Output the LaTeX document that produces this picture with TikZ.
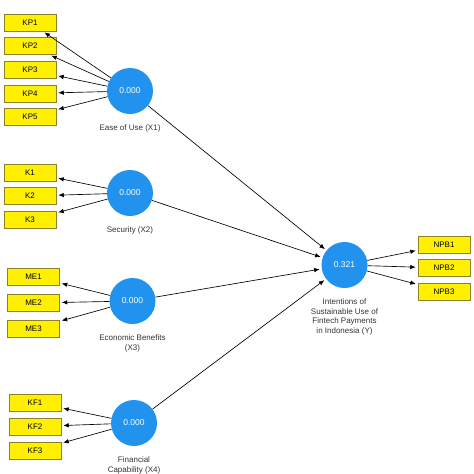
\documentclass[tikz,border=0pt]{standalone}
\usepackage{fontspec}
\setmainfont{Liberation Sans}
\usetikzlibrary{positioning,arrows.meta}
\definecolor{lvblue}{RGB}{33,146,238}
\definecolor{indyellow}{RGB}{255,240,0}
\definecolor{indline}{RGB}{140,130,40}
\begin{document}
\begin{tikzpicture}[x=1pt, y=-1pt,
		ind/.style = {draw=indline, fill=indyellow, line width=0.5pt, minimum width=52pt, minimum height=17pt, inner sep=0pt, font=\fontsize{8}{9}\selectfont},
		lv/.style = {circle, fill=lvblue, minimum size=46pt, inner sep=0pt, text=white, font=\fontsize{8.5}{9}\selectfont},
		lvname/.style = {align=center, inner sep=0.5pt, text=black!80, font=\fontsize{8}{9.5}\selectfont},
		load/.style = {-{Latex[length=5.5pt, width=4.5pt]}, line width=0.65pt, shorten >=2pt},
		path/.style = {-{Latex[length=5.5pt, width=4.5pt]}, line width=0.65pt, shorten >=2pt}]
		\useasboundingbox (0,0) rectangle (474,474);
		
		% ease of use
		\node[lv] (x1) at (130, 91) {0.000};
		\node[lvname, below=10pt of x1] (x1name) {Ease of Use (X1)};
		\node[ind] (kp1) at (30, 22.5) {KP1};
		\node[ind] (kp2) at (30, 46) {KP2};
		\node[ind] (kp3) at (30, 70) {KP3};
		\node[ind] (kp4) at (30, 93.5) {KP4};
		\node[ind] (kp5) at (30, 116.5) {KP5};
		\foreach \i in {1,...,5} \draw[load] (x1) -- (kp\i);
		
		% security
		\node[lv] (x2) at (130, 193) {0.000};
		\node[lvname, below=10pt of x2] (x2name) {Security (X2)};
		\node[ind] (k1) at (30, 172.5) {K1};
		\node[ind] (k2) at (30, 196) {K2};
		\node[ind] (k3) at (30, 220) {K3};
		\foreach \i in {1,2,3} \draw[load] (x2) -- (k\i);
		
		% economic benefits
		\node[lv] (x3) at (132.5, 301) {0.000};
		\node[lvname, below=10pt of x3] (x3name) {Economic Benefits\\(X3)};
		\node[ind] (me1) at (33.5, 276.5) {ME1};
		\node[ind] (me2) at (33.5, 303) {ME2};
		\node[ind] (me3) at (33.5, 328.5) {ME3};
		\foreach \i in {1,2,3} \draw[load] (x3) -- (me\i);
		
		% financial capability
		\node[lv] (x4) at (134, 423) {0.000};
		\node[lvname, below=10pt of x4] (x4name) {Financial\\Capability (X4)};
		\node[ind] (kf1) at (35, 402.5) {KF1};
		\node[ind] (kf2) at (35, 426.5) {KF2};
		\node[ind] (kf3) at (35, 450.5) {KF3};
		\foreach \i in {1,2,3} \draw[load] (x4) -- (kf\i);
		
		% intentions
		\node[lv] (y) at (344.5, 265) {0.321};
		\node[lvname, below=10pt of y] (yname) {Intentions of\\Sustainable Use of\\Fintech Payments\\in Indonesia (Y)};
		\node[ind] (npb1) at (444, 245) {NPB1};
		\node[ind] (npb2) at (444, 268) {NPB2};
		\node[ind] (npb3) at (444, 291.5) {NPB3};
		\foreach \i in {1,2,3} \draw[load] (y) -- (npb\i);
		
		% paths
		\foreach \x in {x1,x2,x3,x4} \draw[path] (\x) -- (y);
	\end{tikzpicture}
\end{document}
